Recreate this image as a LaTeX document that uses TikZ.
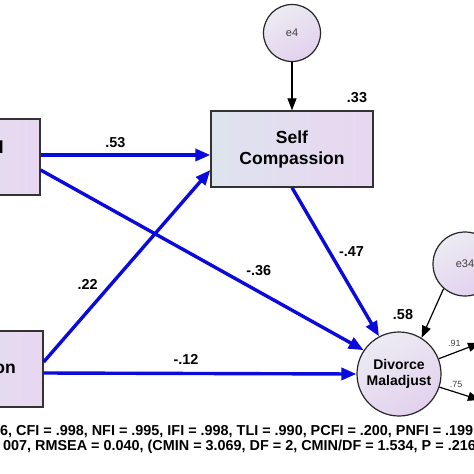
\documentclass[tikz,border=0pt]{standalone}
\usepackage{fontspec}
\setmainfont{Liberation Sans}
\usetikzlibrary{positioning,arrows.meta,calc}
\definecolor{pathblue}{HTML}{0A0ADC}
\definecolor{boxleft}{HTML}{DDE4EE}
\definecolor{boxright}{HTML}{E9D6F1}
\definecolor{circtop}{HTML}{ECEBF3}
\definecolor{circbot}{HTML}{E2D1EE}
\tikzset{
    every edge/.style={draw,semithick},
    obsvar/.style={draw=black!80,line width=1.3pt,left color=boxleft,right color=boxright,
        minimum width=162pt,minimum height=76pt,inner sep=0pt,align=center,
        font=\fontsize{17.5}{21}\selectfont\bfseries},
    latvar/.style={circle,draw=black!85,line width=1.2pt,shading=axis,top color=circtop,
        bottom color=circbot,shading angle=30,inner sep=0pt,align=center,
        font=\fontsize{11}{13}\selectfont,text=black!75},
    effect/.style={draw=pathblue,line width=3.4pt,-{Triangle[length=15pt,width=12pt]}},
    errarrow/.style={draw=black,line width=1.2pt,-{Triangle[length=12pt,width=9pt]}},
    coef/.style={font=\fontsize{14.4}{16}\selectfont\bfseries,inner sep=1pt},
    loading/.style={font=\fontsize{9}{10}\selectfont,text=black!75,inner sep=1pt},
    fitline/.style={font=\fontsize{14.4}{15}\selectfont\bfseries,inner sep=0pt,anchor=base west},
}
\begin{document}
\begin{tikzpicture}[x=1pt,y=-1pt]
    \useasboundingbox (0,0) rectangle (474,474);
    \clip (0,0) rectangle (474,474);
    \fill[white] (0,0) rectangle (474,474);

    % variables
    \node[obsvar,minimum width=120pt] (ivA) at (-20,157) {};
    \node[obsvar,minimum width=123pt] (ivB) at (-18.5,369) {};
    \node[coef,font=\fontsize{17.5}{21}\selectfont\bfseries,anchor=base east,inner sep=0pt] (ivAtext) at (4,153) {l};
    \node[coef,font=\fontsize{17.5}{21}\selectfont\bfseries,anchor=base east,inner sep=0pt] (ivBtext) at (16,373) {on};
    \node[obsvar] (SC) at (292,149) {Self\\Compassion};
    \node[latvar,minimum size=84pt,font=\fontsize{14}{16.5}\selectfont\bfseries,text=black] (DM) at (399,374) {Divorce\\Maladjust};
    \node[latvar,minimum size=57pt] (e4) at (292,33) {e4};
    \node[latvar,minimum size=64pt] (e3) at (465,264) {e34};
    \coordinate (ind1) at (480,343);
    \coordinate (ind2) at (480,400);

    % squared multiple correlations
    \node[coef] (rSC) at (357,98) {.33};
    \node[coef] (rDM) at (403,315) {.58};

    \path
    ([yshift=2pt]ivA.east) edge[effect] node[coef,pos=0.44,above=5pt] {.53} ([yshift=-6pt]SC.west)
    ([yshift=-13pt]ivA.east) edge[effect] node[coef,pos=0.675,above=13pt] {-.36} (DM.146)
    ([yshift=7pt]ivB.east) edge[effect] node[coef,pos=0.406,left=11pt] {.22} ([yshift=-21pt]SC.west)
    ([yshift=-4pt]ivB.east) edge[effect] node[coef,pos=0.455,above=6pt] {-.12} (DM.west)
    (SC.south) edge[effect] node[coef,pos=0.43,right=7pt] {-.47} (DM.118)
    (e4) edge[errarrow] (SC)
    (e3.229) edge[errarrow] (DM.58)
    (DM.21) edge[errarrow] node[loading,pos=0.38,above=5pt] {.91} (ind1)
    (DM.-18) edge[errarrow] node[loading,pos=0.41,above=3pt] {.75} (ind2);

    % fit indices
    \node[fitline] (fitA) at (0,435) {6, CFI = .998, NFI = .995, IFI = .998, TLI = .990, PCFI = .200, PNFI = .199,};
    \node[fitline] (fitB) at (3,450) {007, RMSEA = 0.040, (CMIN = 3.069, DF = 2, CMIN/DF = 1.534, P = .216)};
\end{tikzpicture}
\end{document}
